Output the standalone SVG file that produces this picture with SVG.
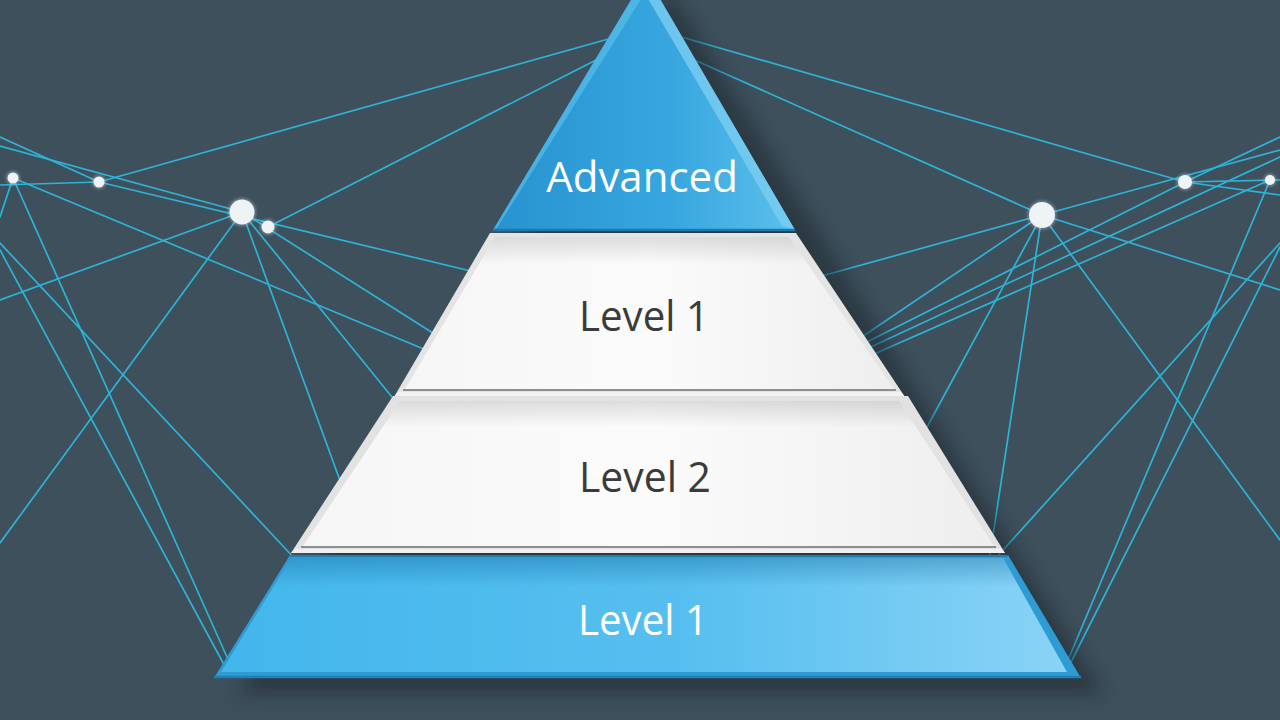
<svg xmlns="http://www.w3.org/2000/svg" width="1280" height="720" viewBox="0 0 1280 720">
<defs>
<style>
.ln{stroke:#2db3d8;stroke-width:1.7;fill:none;stroke-linecap:round}
.dot{fill:#eef3f6}
.halo{fill:#dfe9ee;opacity:0.35}
.lbl{font-family:"Open Sans","Noto Sans","DejaVu Sans",sans-serif;text-anchor:middle}
.dark{fill:#3b3b3b}
.light{fill:#ffffff}
</style>
<linearGradient id="gTop" x1="0" y1="0" x2="1" y2="0">
<stop offset="0" stop-color="#2792cf"/>
<stop offset="0.6" stop-color="#38a7df"/>
<stop offset="1" stop-color="#5cc0ec"/>
</linearGradient>
<linearGradient id="gWhite" x1="0" y1="0" x2="1" y2="0">
<stop offset="0" stop-color="#f6f6f6"/>
<stop offset="0.5" stop-color="#fbfbfb"/>
<stop offset="1" stop-color="#eeeeee"/>
</linearGradient>
<linearGradient id="gWhiteV" x1="0" y1="0" x2="0" y2="1">
<stop offset="0" stop-color="#000000" stop-opacity="0.12"/>
<stop offset="0.18" stop-color="#000000" stop-opacity="0"/>
<stop offset="1" stop-color="#000000" stop-opacity="0"/>
</linearGradient>
<linearGradient id="gBot" x1="0" y1="0" x2="1" y2="0">
<stop offset="0" stop-color="#43b6ec"/>
<stop offset="0.55" stop-color="#57bfef"/>
<stop offset="1" stop-color="#8ad3f6"/>
</linearGradient>
<linearGradient id="gBotV" x1="0" y1="0" x2="0" y2="1">
<stop offset="0" stop-color="#0b5f8f" stop-opacity="0.35"/>
<stop offset="0.25" stop-color="#0b5f8f" stop-opacity="0"/>
<stop offset="1" stop-color="#0b5f8f" stop-opacity="0"/>
</linearGradient>
<filter id="blur" x="-10%" y="-10%" width="120%" height="130%">
<feGaussianBlur stdDeviation="9"/>
</filter>
<filter id="soft" x="-50%" y="-50%" width="200%" height="200%">
<feGaussianBlur stdDeviation="1.5"/>
</filter>
</defs>

<rect id="background" x="0" y="0" width="1280" height="720" fill="#3e505c"/>

<g id="connectors">
<line class="ln" x1="612" y1="38" x2="99" y2="182"/>
<line class="ln" x1="600" y1="58" x2="268" y2="227"/>
<line class="ln" x1="0" y1="137" x2="99" y2="182"/>
<line class="ln" x1="0" y1="146" x2="242" y2="212"/>
<line class="ln" x1="0" y1="185" x2="99" y2="182"/>
<line class="ln" x1="13" y1="178" x2="0" y2="217"/>
<line class="ln" x1="13" y1="178" x2="231" y2="666"/>
<line class="ln" x1="13" y1="178" x2="426" y2="350"/>
<line class="ln" x1="0" y1="250" x2="228" y2="672"/>
<line class="ln" x1="0" y1="243" x2="296" y2="560"/>
<line class="ln" x1="99" y1="182" x2="475" y2="272"/>
<line class="ln" x1="242" y1="212" x2="0" y2="543"/>
<line class="ln" x1="242" y1="212" x2="342" y2="486"/>
<line class="ln" x1="242" y1="212" x2="396" y2="402"/>
<line class="ln" x1="242" y1="212" x2="436" y2="335"/>
<line class="ln" x1="0" y1="300" x2="242" y2="212"/>

<line class="ln" x1="678" y1="36" x2="1185" y2="182"/>
<line class="ln" x1="1185" y1="182" x2="1280" y2="195"/>
<line class="ln" x1="690" y1="58" x2="1042" y2="215"/>
<line class="ln" x1="1042" y1="215" x2="1280" y2="290"/>
<line class="ln" x1="1280" y1="150" x2="1042" y2="215"/>
<line class="ln" x1="1280" y1="137" x2="1185" y2="182"/>
<line class="ln" x1="1185" y1="182" x2="1280" y2="180"/>
<line class="ln" x1="1042" y1="215" x2="800" y2="282"/>
<line class="ln" x1="1042" y1="215" x2="850" y2="345"/>
<line class="ln" x1="1185" y1="182" x2="855" y2="348"/>
<line class="ln" x1="1280" y1="157" x2="860" y2="352"/>
<line class="ln" x1="1270" y1="180" x2="865" y2="358"/>
<line class="ln" x1="1042" y1="215" x2="990" y2="555"/>
<line class="ln" x1="1042" y1="215" x2="920" y2="440"/>
<line class="ln" x1="1042" y1="215" x2="1280" y2="540"/>
<line class="ln" x1="1270" y1="180" x2="1063" y2="672"/>
<line class="ln" x1="1280" y1="247" x2="1066" y2="672"/>
<line class="ln" x1="1280" y1="243" x2="995" y2="559"/>
</g>

<g id="network-nodes">
<g id="node-a"><circle class="halo" cx="13" cy="178" r="7" filter="url(#soft)"/><circle class="dot" cx="13" cy="178" r="5.5"/></g>
<g id="node-b"><circle class="halo" cx="99" cy="182" r="7" filter="url(#soft)"/><circle class="dot" cx="99" cy="182" r="5.5"/></g>
<g id="node-c"><circle class="halo" cx="242" cy="212" r="14" filter="url(#soft)"/><circle class="dot" cx="242" cy="212" r="12.5"/></g>
<g id="node-d"><circle class="halo" cx="268" cy="227" r="8" filter="url(#soft)"/><circle class="dot" cx="268" cy="227" r="6.5"/></g>
<g id="node-e"><circle class="halo" cx="1042" cy="215" r="14.5" filter="url(#soft)"/><circle class="dot" cx="1042" cy="215" r="13"/></g>
<g id="node-f"><circle class="halo" cx="1185" cy="182" r="8.5" filter="url(#soft)"/><circle class="dot" cx="1185" cy="182" r="7"/></g>
<g id="node-g"><circle class="halo" cx="1270" cy="180" r="6.5" filter="url(#soft)"/><circle class="dot" cx="1270" cy="180" r="5"/></g>
</g>

<g id="pyramid-shadow">
<polygon points="656,-20 1090,684 224,684" fill="#1c272e" opacity="0.55" filter="url(#blur)" transform="translate(14,10)"/>
</g>

<g id="tier-advanced">
<polygon points="646,-25 795,230 493,230" fill="url(#gTop)"/>
<polygon points="646,-25 795,230 782,226 644,-8" fill="#7acdf1" opacity="0.8"/>
<polygon points="646,-25 648,-12 497,228 493,230" fill="#5ec3ee" opacity="0.6"/>
<line x1="493" y1="230" x2="795" y2="230" stroke="#1b79b0" stroke-width="2.5"/>
<text class="lbl light" x="642" y="192" font-size="42">Advanced</text>
</g>

<g id="tier-level1-upper">
<polygon points="490,233 796,233 905,397 394,397" fill="#e4e4e4"/>
<polygon points="495,237 789,237 894,389 405,389" fill="url(#gWhite)"/>
<polygon points="495,237 789,237 894,389 405,389" fill="url(#gWhiteV)"/>
<line x1="403" y1="390" x2="896" y2="390" stroke="#8e8e8e" stroke-width="2"/>
<polygon points="398,392 901,392 905,397 394,397" fill="#f2f2f2"/>
<text class="lbl dark" x="644" y="331" font-size="42" textLength="130" lengthAdjust="spacingAndGlyphs">Level 1</text>
</g>

<g id="tier-level2">
<polygon points="393,396 908,396 1005,553 291,553" fill="#e2e2e2"/>
<polygon points="400,401 899,401 994,546 303,546" fill="url(#gWhite)"/>
<polygon points="400,401 899,401 994,546 303,546" fill="url(#gWhiteV)"/>
<line x1="301" y1="547" x2="996" y2="547" stroke="#8e8e8e" stroke-width="2"/>
<polygon points="296,549 1001,549 1005,553 291,553" fill="#f0f0f0"/>
<text class="lbl dark" x="645" y="492" font-size="42" textLength="132" lengthAdjust="spacingAndGlyphs">Level 2</text>
</g>

<g id="tier-level1-base">
<polygon points="290,555 1008,555 1081,678 214,678" fill="#2f9bd3"/>
<polygon points="291,558 1003,558 1067,672 221,672" fill="url(#gBot)"/>
<polygon points="291,558 1003,558 1067,672 221,672" fill="url(#gBotV)"/>
<line x1="290" y1="556" x2="1008" y2="556" stroke="#1d7fb6" stroke-width="2"/>
<line x1="214" y1="677" x2="1081" y2="677" stroke="#1f80b8" stroke-width="2.5"/>
<text class="lbl light" x="643" y="635" font-size="42" textLength="130" lengthAdjust="spacingAndGlyphs">Level 1</text>
</g>
</svg>
